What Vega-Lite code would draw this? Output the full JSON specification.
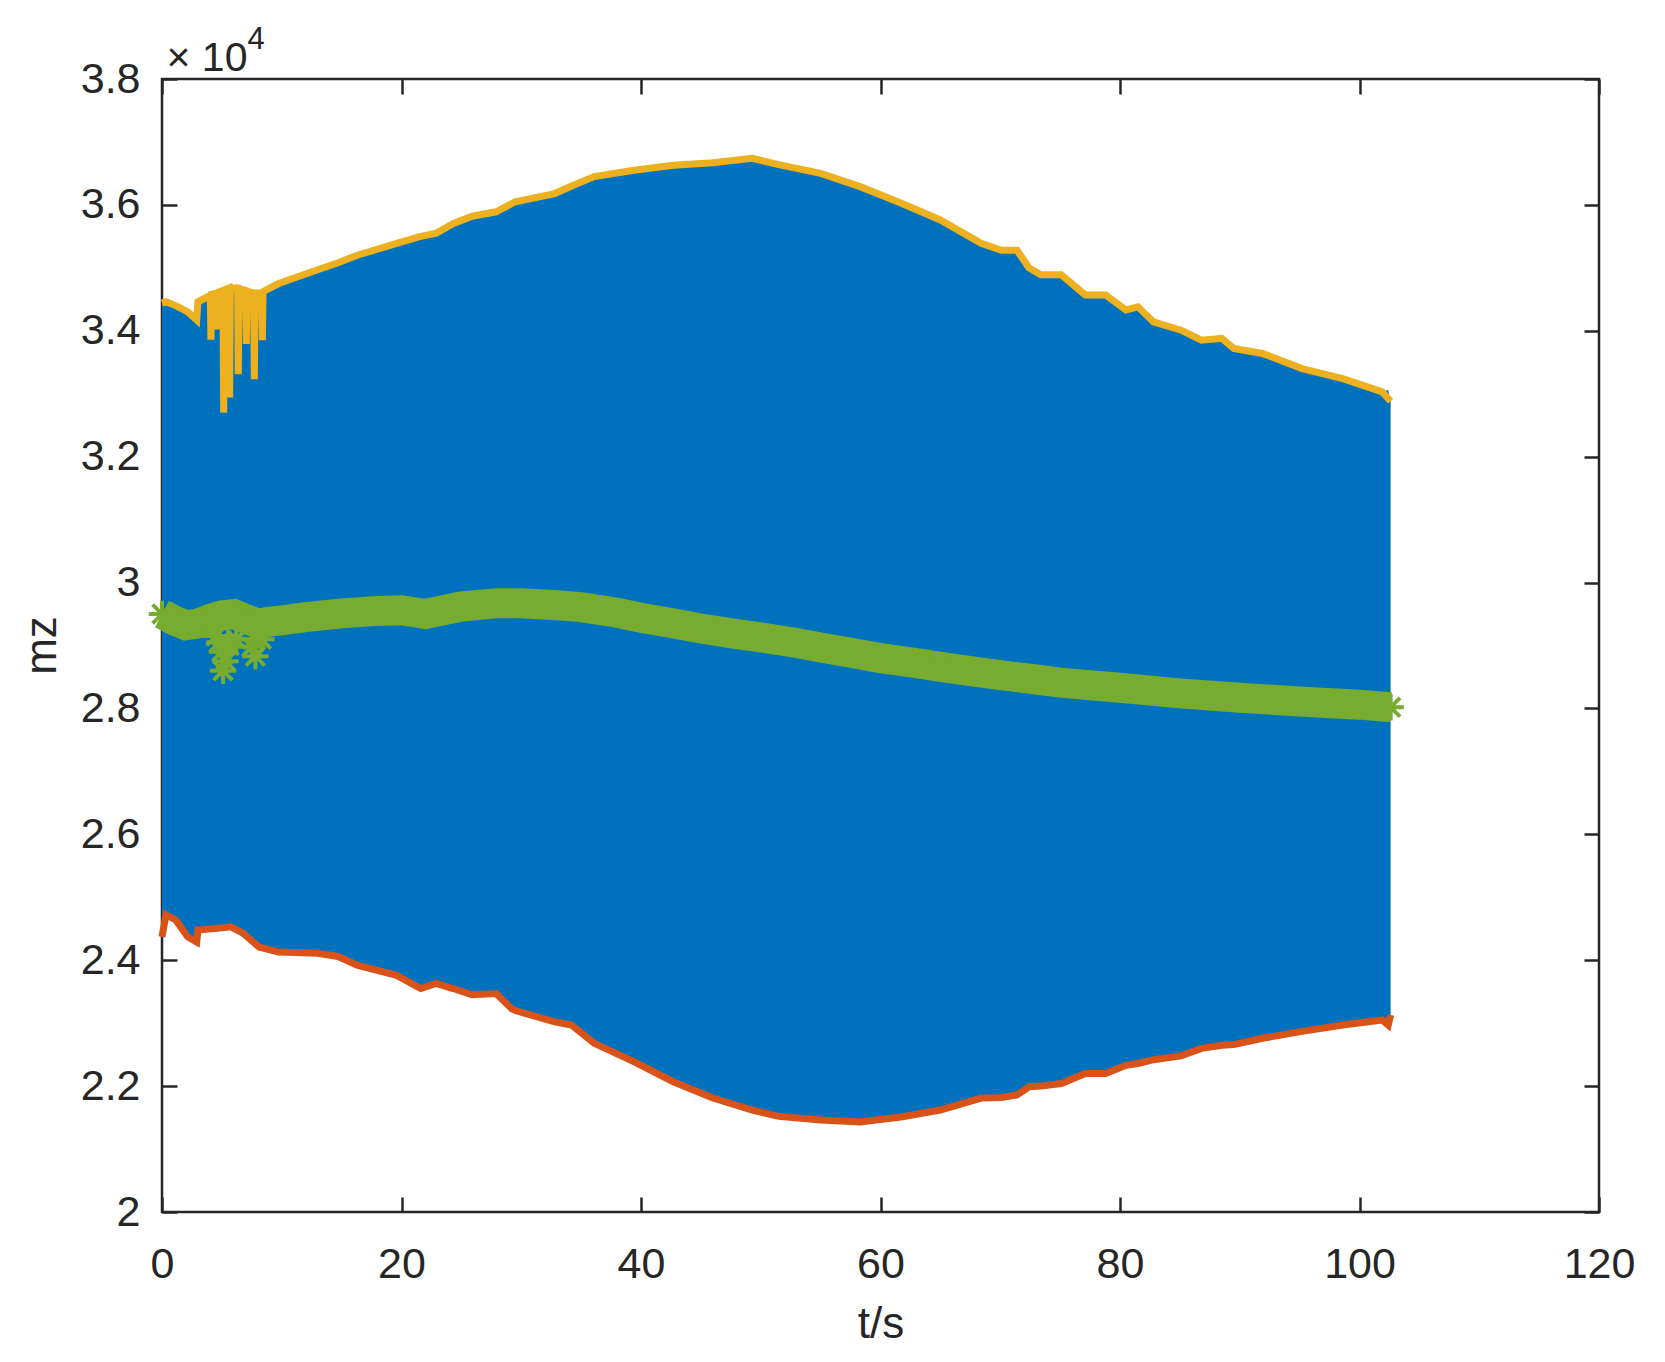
{
  "$schema": "https://vega.github.io/schema/vega-lite/v6.json",
  "autosize": {"type": "none"},
  "padding": {"left": 162, "top": 79, "right": 66, "bottom": 150},
  "width": 1437,
  "height": 1133,
  "background": "white",
  "config": {
    "view": {"stroke": "#262626", "strokeWidth": 2.5},
    "font": "Liberation Sans"
  },
  "datasets": {
    "env": [
      {"t": 0, "hi": 34440, "lo": 24370},
      {"t": 0.33, "hi": 34460, "lo": 24720},
      {"t": 1.15, "hi": 34400, "lo": 24640},
      {"t": 2.15, "hi": 34300, "lo": 24370},
      {"t": 2.9, "hi": 34170, "lo": 24290},
      {"t": 3.0, "hi": 34460, "lo": 24480},
      {"t": 4.8, "hi": 34600, "lo": 24510},
      {"t": 5.76, "hi": 34680, "lo": 24530},
      {"t": 6.76, "hi": 34650, "lo": 24430},
      {"t": 8.1, "hi": 34600, "lo": 24210},
      {"t": 9.74, "hi": 34750, "lo": 24130},
      {"t": 13.0, "hi": 34970, "lo": 24110},
      {"t": 14.7, "hi": 35080, "lo": 24060},
      {"t": 16.3, "hi": 35200, "lo": 23920},
      {"t": 19.6, "hi": 35390, "lo": 23760},
      {"t": 21.6, "hi": 35500, "lo": 23550},
      {"t": 22.9, "hi": 35550, "lo": 23630},
      {"t": 24.3, "hi": 35700, "lo": 23550},
      {"t": 25.9, "hi": 35820, "lo": 23450},
      {"t": 27.9, "hi": 35890, "lo": 23470},
      {"t": 29.2, "hi": 36000, "lo": 23230},
      {"t": 29.5, "hi": 36050, "lo": 23200},
      {"t": 32.8, "hi": 36180, "lo": 23020},
      {"t": 34.2, "hi": 36300, "lo": 22970},
      {"t": 36.1, "hi": 36450, "lo": 22680},
      {"t": 39.4, "hi": 36550, "lo": 22390},
      {"t": 42.7, "hi": 36630, "lo": 22070},
      {"t": 46.0, "hi": 36670, "lo": 21810},
      {"t": 49.3, "hi": 36740, "lo": 21620},
      {"t": 51.5, "hi": 36640, "lo": 21520},
      {"t": 55.0, "hi": 36500, "lo": 21460},
      {"t": 58.3, "hi": 36290, "lo": 21430},
      {"t": 61.7, "hi": 36030, "lo": 21510},
      {"t": 65.0, "hi": 35760, "lo": 21620},
      {"t": 68.4, "hi": 35390, "lo": 21810},
      {"t": 70.1, "hi": 35280, "lo": 21820},
      {"t": 71.4, "hi": 35280, "lo": 21860},
      {"t": 72.4, "hi": 35000, "lo": 21990},
      {"t": 73.4, "hi": 34890, "lo": 22000},
      {"t": 75.1, "hi": 34890, "lo": 22040},
      {"t": 77.1, "hi": 34570, "lo": 22200},
      {"t": 78.8, "hi": 34570, "lo": 22200},
      {"t": 80.5, "hi": 34330, "lo": 22330},
      {"t": 81.5, "hi": 34380, "lo": 22360},
      {"t": 82.8, "hi": 34140, "lo": 22420},
      {"t": 85.1, "hi": 34010, "lo": 22480},
      {"t": 86.8, "hi": 33850, "lo": 22600},
      {"t": 88.5, "hi": 33880, "lo": 22650},
      {"t": 89.5, "hi": 33720, "lo": 22660},
      {"t": 91.9, "hi": 33640, "lo": 22760},
      {"t": 95.2, "hi": 33400, "lo": 22870},
      {"t": 98.6, "hi": 33240, "lo": 22970},
      {"t": 101.9, "hi": 33030, "lo": 23050},
      {"t": 102.4, "hi": 33060, "lo": 22970},
      {"t": 102.6, "hi": 32880, "lo": 23130}
    ],
    "upper": [
      {"t": 0, "mz": 34440},
      {"t": 0.33, "mz": 34460},
      {"t": 1.15, "mz": 34400},
      {"t": 2.15, "mz": 34300},
      {"t": 2.9, "mz": 34170},
      {"t": 3.0, "mz": 34460},
      {"t": 4.03, "mz": 34560},
      {"t": 4.09, "mz": 33860},
      {"t": 4.15, "mz": 34580},
      {"t": 4.64, "mz": 34600},
      {"t": 4.70, "mz": 34020},
      {"t": 4.76, "mz": 34620},
      {"t": 5.09, "mz": 34640},
      {"t": 5.15, "mz": 32700},
      {"t": 5.21, "mz": 34650},
      {"t": 5.59, "mz": 34680},
      {"t": 5.65, "mz": 32940},
      {"t": 5.71, "mz": 34680},
      {"t": 6.31, "mz": 34680},
      {"t": 6.37, "mz": 33310},
      {"t": 6.43, "mz": 34670},
      {"t": 6.98, "mz": 34640},
      {"t": 7.04, "mz": 33790},
      {"t": 7.10, "mz": 34630},
      {"t": 7.65, "mz": 34600},
      {"t": 7.71, "mz": 33230},
      {"t": 7.77, "mz": 34600},
      {"t": 8.32, "mz": 34600},
      {"t": 8.38, "mz": 33850},
      {"t": 8.44, "mz": 34620},
      {"t": 9.74, "mz": 34750},
      {"t": 13.0, "mz": 34970},
      {"t": 14.7, "mz": 35080},
      {"t": 16.3, "mz": 35200},
      {"t": 19.6, "mz": 35390},
      {"t": 21.6, "mz": 35500},
      {"t": 22.9, "mz": 35550},
      {"t": 24.3, "mz": 35700},
      {"t": 25.9, "mz": 35820},
      {"t": 27.9, "mz": 35890},
      {"t": 29.5, "mz": 36050},
      {"t": 32.8, "mz": 36180},
      {"t": 34.2, "mz": 36300},
      {"t": 36.1, "mz": 36450},
      {"t": 39.4, "mz": 36550},
      {"t": 42.7, "mz": 36630},
      {"t": 46.0, "mz": 36670},
      {"t": 49.3, "mz": 36740},
      {"t": 51.5, "mz": 36640},
      {"t": 55.0, "mz": 36500},
      {"t": 58.3, "mz": 36290},
      {"t": 61.7, "mz": 36030},
      {"t": 65.0, "mz": 35760},
      {"t": 68.4, "mz": 35390},
      {"t": 70.1, "mz": 35280},
      {"t": 71.4, "mz": 35280},
      {"t": 72.4, "mz": 35000},
      {"t": 73.4, "mz": 34890},
      {"t": 75.1, "mz": 34890},
      {"t": 77.1, "mz": 34570},
      {"t": 78.8, "mz": 34570},
      {"t": 80.5, "mz": 34330},
      {"t": 81.5, "mz": 34380},
      {"t": 82.8, "mz": 34140},
      {"t": 85.1, "mz": 34010},
      {"t": 86.8, "mz": 33850},
      {"t": 88.5, "mz": 33880},
      {"t": 89.5, "mz": 33720},
      {"t": 91.9, "mz": 33640},
      {"t": 95.2, "mz": 33400},
      {"t": 98.6, "mz": 33240},
      {"t": 101.9, "mz": 33030},
      {"t": 102.6, "mz": 32880}
    ],
    "mean": [
      {"t": 0, "mz": 29500},
      {"t": 1, "mz": 29400},
      {"t": 2, "mz": 29320},
      {"t": 3, "mz": 29350},
      {"t": 4, "mz": 29420},
      {"t": 5, "mz": 29480},
      {"t": 6, "mz": 29500},
      {"t": 7, "mz": 29420},
      {"t": 8, "mz": 29350},
      {"t": 9, "mz": 29380},
      {"t": 10, "mz": 29400},
      {"t": 12, "mz": 29450},
      {"t": 15, "mz": 29510},
      {"t": 18, "mz": 29550},
      {"t": 20, "mz": 29560},
      {"t": 22, "mz": 29500},
      {"t": 25, "mz": 29620},
      {"t": 28, "mz": 29670},
      {"t": 30, "mz": 29670},
      {"t": 33, "mz": 29640},
      {"t": 35, "mz": 29610},
      {"t": 38, "mz": 29520},
      {"t": 40, "mz": 29440},
      {"t": 43, "mz": 29340},
      {"t": 45, "mz": 29270},
      {"t": 48, "mz": 29180},
      {"t": 50, "mz": 29130},
      {"t": 53, "mz": 29040},
      {"t": 55, "mz": 28970},
      {"t": 58, "mz": 28870},
      {"t": 60, "mz": 28800},
      {"t": 63, "mz": 28720},
      {"t": 65, "mz": 28660},
      {"t": 68, "mz": 28580},
      {"t": 70, "mz": 28530},
      {"t": 73, "mz": 28460},
      {"t": 75, "mz": 28410},
      {"t": 78, "mz": 28360},
      {"t": 80, "mz": 28330},
      {"t": 85, "mz": 28240},
      {"t": 90, "mz": 28170},
      {"t": 95, "mz": 28110},
      {"t": 100, "mz": 28060},
      {"t": 102.6, "mz": 28020}
    ],
    "stars": [
      {"t": 4.5, "mz": 29150},
      {"t": 4.8, "mz": 29050},
      {"t": 5.0, "mz": 28900},
      {"t": 5.1, "mz": 28600},
      {"t": 5.3, "mz": 28750},
      {"t": 5.6, "mz": 29000},
      {"t": 6.2, "mz": 29100},
      {"t": 7.5, "mz": 28980},
      {"t": 7.8, "mz": 28830},
      {"t": 8.3, "mz": 29100}
    ]
  },
  "resolve": {"axis": {"x": "independent", "y": "independent"}},
  "layer": [
    {
      "data": {"name": "env"},
      "mark": {"type": "area", "color": "#0072BD", "clip": false},
      "encoding": {
        "x": {
          "field": "t", "type": "quantitative",
          "scale": {"domain": [0, 120], "nice": false, "zero": false},
          "axis": {
            "orient": "bottom", "values": [0, 20, 40, 60, 80, 100, 120],
            "domain": false, "grid": false, "labelFlush": false,
            "tickSize": -15, "tickWidth": 2.5, "tickColor": "#262626",
            "labelFont": "Liberation Sans", "labelFontSize": 43, "labelColor": "#262626",
            "labelBaseline": "alphabetic", "labelPadding": 80,
            "title": "t/s", "titleFont": "Liberation Sans", "titleFontSize": 44,
            "titleFontWeight": "normal", "titleColor": "#262626",
            "titleBaseline": "alphabetic", "titleY": 125
          }
        },
        "y": {
          "field": "lo", "type": "quantitative",
          "scale": {"domain": [20000, 38000], "nice": false, "zero": false},
          "axis": {
            "orient": "left",
            "values": [20000, 22000, 24000, 26000, 28000, 30000, 32000, 34000, 36000, 38000],
            "labelExpr": "format(datum.value / 10000, '~g')",
            "domain": false, "grid": false, "labelFlush": false,
            "tickSize": -15, "tickWidth": 2.5, "tickColor": "#262626",
            "labelFont": "Liberation Sans", "labelFontSize": 43, "labelColor": "#262626",
            "labelPadding": 37,
            "title": "mz", "titleFont": "Liberation Sans", "titleFontSize": 44,
            "titleFontWeight": "normal", "titleColor": "#262626",
            "titleBaseline": "alphabetic", "titleAngle": 270, "titleX": -107, "titleY": 566
          }
        },
        "y2": {"field": "hi"}
      }
    },
    {
      "data": {"name": "upper"},
      "mark": {"type": "line", "color": "#EDB120", "strokeWidth": 7, "clip": false},
      "encoding": {
        "x": {"field": "t", "type": "quantitative", "axis": null},
        "y": {"field": "mz", "type": "quantitative", "axis": null}
      }
    },
    {
      "data": {"name": "env"},
      "mark": {"type": "line", "color": "#D95319", "strokeWidth": 7, "clip": false},
      "encoding": {
        "x": {
          "field": "t", "type": "quantitative",
          "axis": {
            "orient": "top", "values": [0, 20, 40, 60, 80, 100, 120],
            "domain": false, "grid": false, "labels": false,
            "tickSize": -15, "tickWidth": 2.5, "tickColor": "#262626",
            "title": "× 10", "titleFont": "Liberation Sans", "titleFontSize": 41,
            "titleFontWeight": "normal", "titleColor": "#262626",
            "titleAlign": "left", "titleAnchor": "start", "titleAngle": 0,
            "titleBaseline": "alphabetic", "titleX": 4, "titleY": -9
          }
        },
        "y": {
          "field": "lo", "type": "quantitative",
          "axis": {
            "orient": "right",
            "values": [20000, 22000, 24000, 26000, 28000, 30000, 32000, 34000, 36000, 38000],
            "domain": false, "grid": false, "labels": false,
            "tickSize": -15, "tickWidth": 2.5, "tickColor": "#262626",
            "title": "4", "titleFont": "Liberation Sans", "titleFontSize": 31,
            "titleFontWeight": "normal", "titleColor": "#262626",
            "titleAlign": "left", "titleAnchor": "start", "titleAngle": 0,
            "titleBaseline": "alphabetic", "titleX": -1352, "titleY": -31
          }
        }
      }
    },
    {
      "data": {"name": "mean"},
      "mark": {"type": "line", "color": "#77AC30", "strokeWidth": 30, "clip": false},
      "encoding": {
        "x": {"field": "t", "type": "quantitative", "axis": null},
        "y": {"field": "mz", "type": "quantitative", "axis": null}
      }
    },
    {
      "data": {"name": "mean"},
      "mark": {
        "type": "point", "filled": false, "color": "#77AC30", "strokeWidth": 4, "opacity": 1,
        "size": 700, "clip": false,
        "shape": "M-1,0L1,0M0,-1L0,1M-0.71,-0.71L0.71,0.71M-0.71,0.71L0.71,-0.71"
      },
      "encoding": {
        "x": {"field": "t", "type": "quantitative", "axis": null},
        "y": {"field": "mz", "type": "quantitative", "axis": null}
      }
    },
    {
      "data": {"name": "stars"},
      "mark": {
        "type": "point", "filled": false, "color": "#77AC30", "strokeWidth": 4, "opacity": 1,
        "size": 700, "clip": false,
        "shape": "M-1,0L1,0M0,-1L0,1M-0.71,-0.71L0.71,0.71M-0.71,0.71L0.71,-0.71"
      },
      "encoding": {
        "x": {"field": "t", "type": "quantitative", "axis": null},
        "y": {"field": "mz", "type": "quantitative", "axis": null}
      }
    }
  ]
}
